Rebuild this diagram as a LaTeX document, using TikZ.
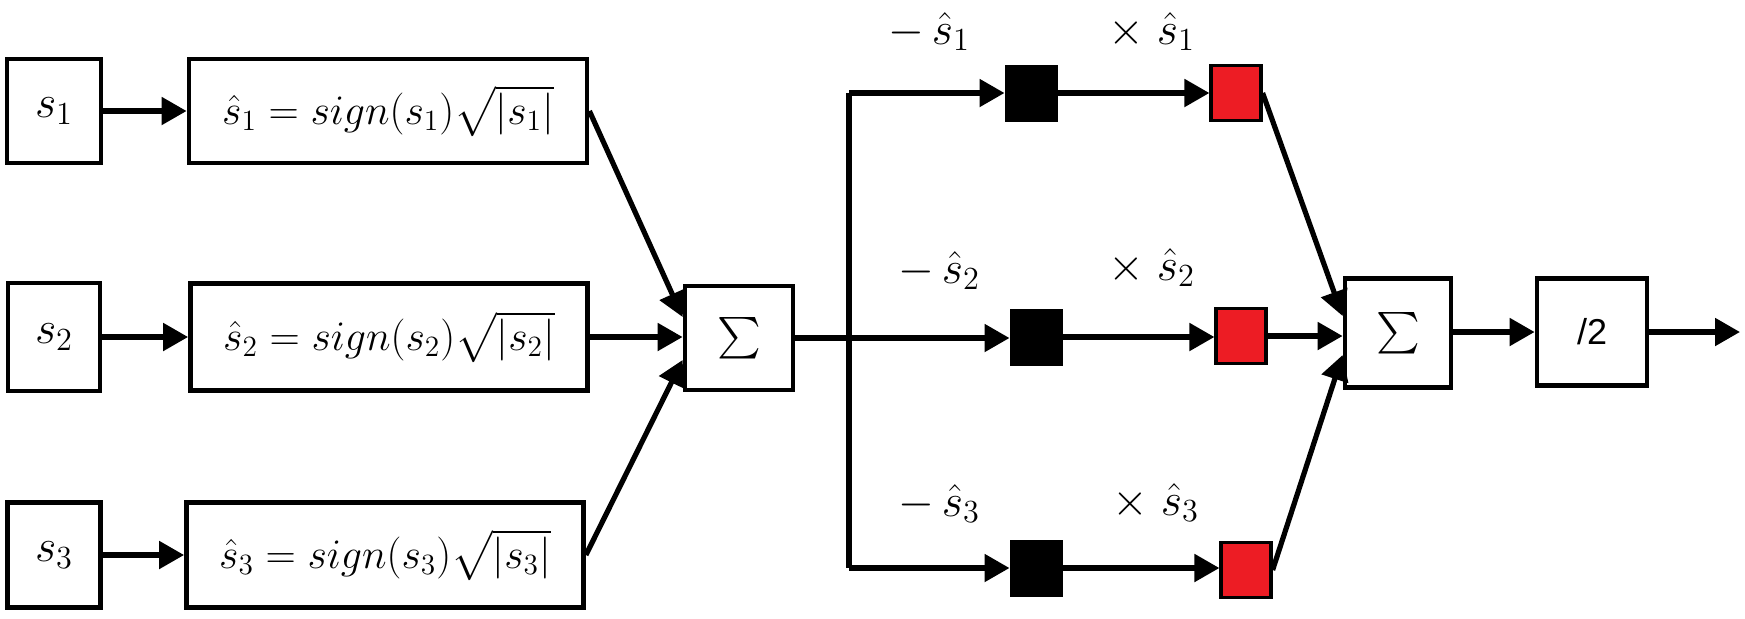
\RequirePackage{fix-cm}
\documentclass[tikz,border=0pt]{standalone}
\usepackage{amsmath}
\usepackage{fontspec}
\newfontfamily\arialfont{Liberation Sans}
\usetikzlibrary{arrows.meta,calc}
\definecolor{boxred}{RGB}{237,28,36}
\tikzset{
  blk/.style={draw=black, line width=2.4pt, inner sep=0pt, font=\fontsize{21}{25}\selectfont},
  conn/.style={line width=2.6pt},
  arr/.style={line width=2.6pt, -{Triangle[length=12.5pt,width=13.5pt]}},
  blackbox/.style={draw=black, fill=black, line width=0.5pt, minimum width=26pt, minimum height=28pt, inner sep=0pt},
  redbox/.style={draw=black, fill=boxred, line width=1.6pt, minimum width=25pt, minimum height=27.5pt, inner sep=0pt},
  lbl/.style={inner sep=0pt, anchor=base west, font=\fontsize{23}{27}\selectfont}
}
\begin{document}
\begin{tikzpicture}[x=0.5pt,y=-0.5pt]
\useasboundingbox (0,0) rectangle (1745,618);
% input boxes
\node[blk, minimum width=47pt, minimum height=52pt, font=\fontsize{23}{27}\selectfont] (s1) at (54,111) {$s_1$};
\node[blk, minimum width=46pt, minimum height=54pt, font=\fontsize{23}{27}\selectfont] (s2) at (54,337) {$s_2$};
\node[blk, minimum width=46.5pt, minimum height=52.5pt, font=\fontsize{23}{27}\selectfont] (s3) at (54,555) {$s_3$};
% sqrt boxes
\node[blk, minimum width=199pt, minimum height=52pt] (q1) at (388,111) {$\hat{s}_1 = sign(s_1)\sqrt{|s_1|}$};
\node[blk, minimum width=198.5pt, minimum height=53.5pt] (q2) at (389,337) {$\hat{s}_2 = sign(s_2)\sqrt{|s_2|}$};
\node[blk, minimum width=198.5pt, minimum height=52.5pt] (q3) at (385,555) {$\hat{s}_3 = sign(s_3)\sqrt{|s_3|}$};
% first sum
\node[blk, minimum width=54pt, minimum height=52pt] (sum1) at (739,338) {$\sum$};
% black boxes
\node[blackbox] (b1) at (1031,93) {};
\node[blackbox] (b2) at (1036,337) {};
\node[blackbox] (b3) at (1036,568) {};
% red boxes
\node[redbox] (r1) at (1236,93) {};
\node[redbox] (r2) at (1241,336) {};
\node[redbox] (r3) at (1246,570) {};
% second sum and /2
\node[blk, minimum width=53pt, minimum height=54.5pt] (sum2) at (1398,333) {$\sum$};
\node[blk, minimum width=55pt, minimum height=53.5pt, font=\arialfont\fontsize{18}{21}\selectfont] (half) at (1592,332) {/2};
% labels
\node[lbl] (l1) at (888,44) {$-\,\hat{s}_1$};
\node[lbl] (m1) at (1108,44) {$\times\;\hat{s}_1$};
\node[lbl] (l2) at (898,283) {$-\,\hat{s}_2$};
\node[lbl] (m2) at (1108,280) {$\times\;\hat{s}_2$};
\node[lbl] (l3) at (898,516) {$-\,\hat{s}_3$};
\node[lbl] (m3) at (1112,515) {$\times\;\hat{s}_3$};
% coordinates
\coordinate (bus) at (849,337);
\coordinate (out) at (1740,331);
% connectors left part
\draw[arr] (s1.east) -- (q1.west);
\draw[arr] (s2.east) -- (q2.west);
\draw[arr] (s3.east) -- (q3.west);
\draw[arr] (q1.east) -- ($(sum1.west)+(0,-21)$);
\draw[arr] (q2.east) -- (q2.east -| sum1.west);
\draw[arr] (q3.east) -- ($(sum1.west)+(0,22)$);
% bus
\draw[arr] (sum1.east) -- (sum1.east -| b2.west);
\draw[conn] (bus |- b1.west) -- (bus |- b3.west);
\draw[arr] (bus |- b1.west) -- (b1.west);
\draw[arr] (bus |- b3.west) -- (b3.west);
% black to red
\draw[arr] (b1.east) -- (r1.west);
\draw[arr] (b2.east) -- (b2.east -| r2.west);
\draw[arr] (b3.east) -- (b3.east -| r3.west);
% red to sum2
\draw[arr] (r1.east) -- ($(sum2.west)+(0,-17)$);
\draw[arr] (r2.east) -- (r2.east -| sum2.west);
\draw[arr] (r3.east) -- ($(sum2.west)+(0,22)$);
% output
\draw[arr] (sum2.east |- half.west) -- (half.west);
\draw[arr] (half.east) -- (half.east -| out);
\end{tikzpicture}
\end{document}
